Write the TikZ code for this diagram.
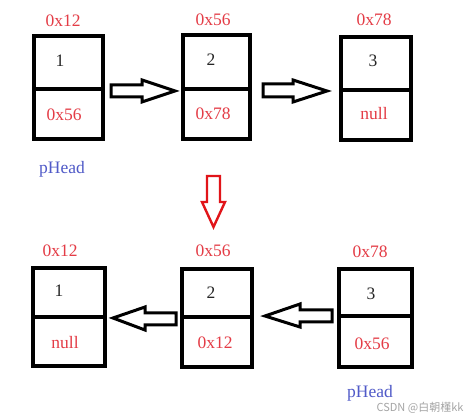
\documentclass[tikz,border=0pt]{standalone}
\usepackage{fontspec}
\setmainfont{Liberation Serif}
\newfontfamily\cjkfont{Noto Sans CJK SC}
\definecolor{addr}{RGB}{228,60,70}
\definecolor{headblue}{RGB}{80,90,200}
\definecolor{arrred}{RGB}{225,20,25}
\definecolor{wm}{RGB}{165,165,165}
\tikzset{
  box/.style={draw=black, line width=3.8pt, rectangle, inner sep=0pt},
  divider/.style={black, line width=3.6pt},
  blockarrow/.style={draw=black, line width=3pt, line join=miter, fill=white},
  redarrow/.style={draw=arrred, line width=2.4pt, line join=miter, fill=white},
  addrtxt/.style={text=addr, font=\fontsize{17.5}{19}\selectfont, inner sep=0pt},
  valtxt/.style={text=black!85, font=\fontsize{17.5}{19}\selectfont, inner sep=0pt},
  headtxt/.style={text=headblue, font=\fontsize{17.5}{19}\selectfont, inner sep=0pt},
}
\begin{document}
\begin{tikzpicture}[x=1pt, y=-1pt]
\useasboundingbox (0,0) rectangle (474,419);
\fill[white] (0,0) rectangle (474,419);

% ---------- top row ----------
\node[box, minimum width=69pt, minimum height=103pt] (t1) at (68.5,87.5) {};
\node[box, minimum width=67pt, minimum height=104pt] (t2) at (216.5,87) {};
\node[box, minimum width=70pt, minimum height=103pt] (t3) at (376,88.5) {};
\draw[divider] (32,89) -- (t1.east |- 0,89);
\draw[divider] (181,89) -- (t2.east |- 0,89);
\draw[divider] (339,90) -- (t3.east |- 0,90);

\node[addrtxt] (t1a) at (63,21) {0x12};
\node[addrtxt] (t2a) at (213,20) {0x56};
\node[addrtxt] (t3a) at (374,20) {0x78};
\node[valtxt] (t1d) at (60,61) {1};
\node[valtxt] (t2d) at (211,60) {2};
\node[valtxt] (t3d) at (373,61) {3};
\node[addrtxt] (t1n) at (64,115) {0x56};
\node[addrtxt] (t2n) at (213,114) {0x78};
\node[addrtxt] (t3n) at (374,114) {null};
\node[headtxt] (ph1) at (62,169) {pHead};

% top arrows
\draw[blockarrow] (111,85) -- (142,85) -- (142,80) -- (175,91) -- (142,102) -- (142,97) -- (111,97) -- cycle;
\draw[blockarrow] (263,84) -- (293,84) -- (293,80) -- (327,91) -- (293,102) -- (293,97) -- (263,97) -- cycle;

% red down arrow
\draw[redarrow] (207,176) -- (220,176) -- (220,202) -- (225,202) -- (213.5,227) -- (202,202) -- (207,202) -- cycle;

% ---------- bottom row ----------
\node[box, minimum width=72pt, minimum height=98pt] (b1) at (69,317) {};
\node[box, minimum width=70pt, minimum height=98pt] (b2) at (217,318) {};
\node[box, minimum width=73pt, minimum height=98pt] (b3) at (375.5,318) {};
\draw[divider] (b1.west |- 0,317) -- (107,317);
\draw[divider] (b2.west |- 0,317) -- (254,317);
\draw[divider] (b3.west |- 0,316) -- (414,316);

\node[addrtxt] (b1a) at (60,251) {0x12};
\node[addrtxt] (b2a) at (213,251) {0x56};
\node[addrtxt] (b3a) at (370,252) {0x78};
\node[valtxt] (b1d) at (59,291) {1};
\node[valtxt] (b2d) at (211,293) {2};
\node[valtxt] (b3d) at (371,294) {3};
\node[addrtxt] (b1n) at (65,343) {null};
\node[addrtxt] (b2n) at (215,343) {0x12};
\node[addrtxt] (b3n) at (372,344) {0x56};
\node[headtxt] (ph2) at (370,393) {pHead};

% bottom arrows
\draw[blockarrow] (176,313) -- (145,313) -- (145,307) -- (113,318) -- (145,330) -- (145,325) -- (176,325) -- cycle;
\draw[blockarrow] (332,310) -- (300,310) -- (300,304) -- (265,316) -- (300,327) -- (300,322) -- (332,322) -- cycle;

% watermark
\node[text=wm, font=\cjkfont\fontsize{11}{13}\selectfont, inner sep=0pt] (wmk) at (420,408) {CSDN @白朝槿kk};
\end{tikzpicture}
\end{document}
